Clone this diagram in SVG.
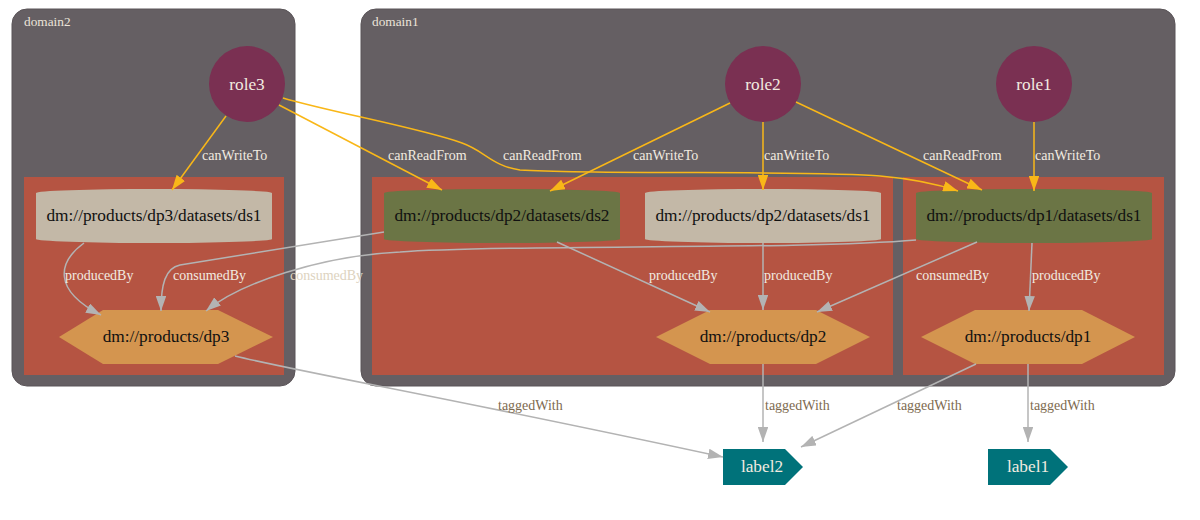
<svg xmlns="http://www.w3.org/2000/svg" width="1200" height="520" viewBox="0 0 1200 520">
<defs>
<style>
.dom{fill:#655f63;stroke:#5a5458;stroke-width:1}
.inner{fill:#b55442}
.domlbl{font-family:"Liberation Serif",serif;font-size:13.3px;fill:#ece4da}
.role{fill:#7a3052}
.ds-b{fill:#c3b8a7}
.ds-g{fill:#6b7545}
.hex{fill:#d4954f}
.tag{fill:#00727a}
.nt{font-family:"Liberation Serif",serif;font-size:17.3px;fill:#111111;text-anchor:middle}
.nl{font-family:"Liberation Serif",serif;font-size:17.3px;fill:#f2ebe0;text-anchor:middle}
.ey{fill:none;stroke:#f9b718;stroke-width:1.5;marker-end:url(#ay)}
.eg{fill:none;stroke:#b3b3b3;stroke-width:1.5;marker-end:url(#ag)}
.el{font-family:"Liberation Serif",serif;font-size:14px;fill:#f2ebe0}
.el2{font-family:"Liberation Serif",serif;font-size:14px;fill:#ddd3c0}
.elt{font-family:"Liberation Serif",serif;font-size:14px;fill:#7d6a4f}
</style>
<marker id="ay" viewBox="0 0 15 10.5" refX="15" refY="5.25" markerWidth="15" markerHeight="10.5" orient="auto" markerUnits="userSpaceOnUse"><path d="M0,0L15,5.25L0,10.5z" fill="#f9b718"/></marker>
<marker id="ag" viewBox="0 0 15 10.5" refX="15" refY="5.25" markerWidth="15" markerHeight="10.5" orient="auto" markerUnits="userSpaceOnUse"><path d="M0,0L15,5.25L0,10.5z" fill="#b3b3b3"/></marker>
</defs>
<rect width="1200" height="520" fill="#ffffff"/>

<g id="domain2">
<rect class="dom" x="12" y="9" width="283" height="377" rx="15"/>
<text class="domlbl" x="24" y="26">domain2</text>
<rect class="inner" x="24" y="177" width="260" height="198"/>
</g>
<g id="domain1">
<rect class="dom" x="361" y="9" width="814" height="377" rx="15"/>
<text class="domlbl" x="372" y="26">domain1</text>
<rect class="inner" x="372" y="177" width="521" height="198"/>
<rect class="inner" x="903" y="177" width="261" height="198"/>
</g>

<g id="role3"><circle class="role" cx="247" cy="84" r="38"/><text class="nl" x="247" y="90">role3</text></g>
<g id="role2"><circle class="role" cx="763" cy="84" r="38"/><text class="nl" x="763" y="90">role2</text></g>
<g id="role1"><circle class="role" cx="1034" cy="84" r="38"/><text class="nl" x="1034" y="90">role1</text></g>

<g id="dp3-ds1"><path class="ds-b" d="M36,193 A118,4 0 0 1 272,193 L272,239 A118,4 0 0 1 36,239 Z"/><text class="nt" x="154" y="221">dm://products/dp3/datasets/ds1</text></g>
<g id="dp2-ds2"><path class="ds-g" d="M384,193 A118,4 0 0 1 620,193 L620,239 A118,4 0 0 1 384,239 Z"/><text class="nt" x="502" y="221">dm://products/dp2/datasets/ds2</text></g>
<g id="dp2-ds1"><path class="ds-b" d="M645,193 A118,4 0 0 1 881,193 L881,239 A118,4 0 0 1 645,239 Z"/><text class="nt" x="763" y="221">dm://products/dp2/datasets/ds1</text></g>
<g id="dp1-ds1"><path class="ds-g" d="M916,193 A118,4 0 0 1 1152,193 L1152,239 A118,4 0 0 1 916,239 Z"/><text class="nt" x="1034" y="221">dm://products/dp1/datasets/ds1</text></g>

<g id="dp3"><polygon class="hex" points="59,337 103,310 218,310 273,337 218,364 103,364"/><text class="nt" x="166" y="342">dm://products/dp3</text></g>
<g id="dp2"><polygon class="hex" points="656,337 710,310 816,310 870,337 816,364 710,364"/><text class="nt" x="763" y="342">dm://products/dp2</text></g>
<g id="dp1"><polygon class="hex" points="921,337 975,310 1082,310 1135,337 1082,364 975,364"/><text class="nt" x="1028" y="342">dm://products/dp1</text></g>

<g id="label2"><polygon class="tag" points="723,449 785,449 803,467 785,485 723,485"/><text class="nl" x="762" y="472">label2</text></g>
<g id="label1"><polygon class="tag" points="988,449 1050,449 1068,467 1050,485 988,485"/><text class="nl" x="1028" y="472">label1</text></g>

<g id="connectors">
<path class="ey" d="M226,116 L172,190"/>
<path class="ey" d="M279,105 L442,190"/>
<path class="ey" d="M283,98 C330,112 420,128 462,143 C485,151 492,166 520,170 C600,175 820,170 880,176 C915,179 940,185 958,191"/>
<path class="ey" d="M730,103 L550,191"/>
<path class="ey" d="M763,122 L763,190"/>
<path class="ey" d="M796,102 L982,190"/>
<path class="ey" d="M1034,122 L1034,191"/>

<path class="eg" d="M84,243 C58,262 52,290 101,315"/>
<path class="eg" d="M384,232 L180,265 C165,268 161,285 161,311"/>
<path class="eg" d="M916,240 C800,250 500,244 400,252 C320,256 240,283 206,311"/>
<path class="eg" d="M557,242 L710,312"/>
<path class="eg" d="M763,243 L763,310"/>
<path class="eg" d="M977,242 L817,312"/>
<path class="eg" d="M1032,243 L1029,311"/>
<path class="eg" d="M235,356 C300,372 450,398 723,457"/>
<path class="eg" d="M763,364 L763,442"/>
<path class="eg" d="M976,364 L801,447"/>
<path class="eg" d="M1028,364 L1028,442"/>

<text class="el" x="202" y="160">canWriteTo</text>
<text class="el" x="388" y="160">canReadFrom</text>
<text class="el" x="503" y="160">canReadFrom</text>
<text class="el" x="633" y="160">canWriteTo</text>
<text class="el" x="764" y="160">canWriteTo</text>
<text class="el" x="923" y="160">canReadFrom</text>
<text class="el" x="1035" y="160">canWriteTo</text>
<text class="el" x="65" y="280">producedBy</text>
<text class="el" x="173" y="280">consumedBy</text>
<text class="el2" x="290" y="280">consumedBy</text>
<text class="el" x="649" y="280">producedBy</text>
<text class="el" x="764" y="280">producedBy</text>
<text class="el" x="916" y="280">consumedBy</text>
<text class="el" x="1032" y="280">producedBy</text>
<text class="elt" x="498" y="410">taggedWith</text>
<text class="elt" x="765" y="410">taggedWith</text>
<text class="elt" x="897" y="410">taggedWith</text>
<text class="elt" x="1030" y="410">taggedWith</text>
</g>
</svg>
